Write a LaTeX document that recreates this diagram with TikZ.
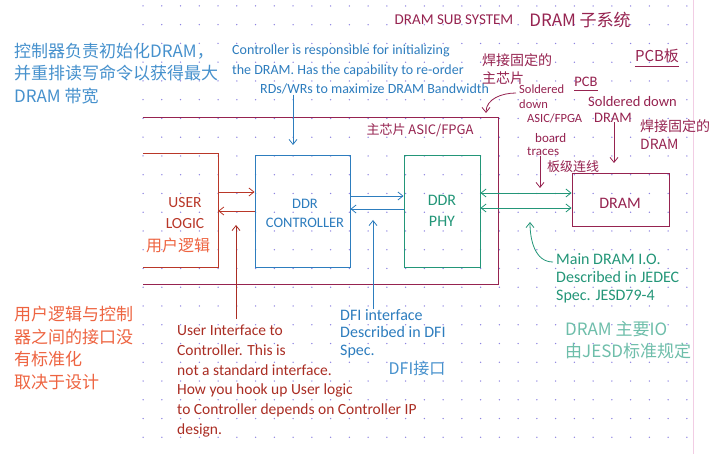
\documentclass[tikz,border=0pt]{standalone}
\usepackage{fontspec}
\setmainfont{Carlito}
\newfontfamily\cjk{Noto Sans CJK SC}
\usetikzlibrary{positioning, arrows.meta, calc}
\definecolor{dotpurple}{RGB}{140,130,225}
\definecolor{edgepink}{RGB}{242,205,228}
\definecolor{chipred}{RGB}{150,35,80}
\definecolor{userred}{RGB}{185,55,40}
\definecolor{ctrlblue}{RGB}{45,125,190}
\definecolor{phygreen}{RGB}{35,150,120}
\definecolor{notered}{RGB}{170,45,35}
\definecolor{orangecn}{RGB}{238,100,65}
\definecolor{bluecn}{RGB}{70,145,205}
\definecolor{lightteal}{RGB}{110,190,170}
\tikzset{
    hand/.style={inner sep=0pt, align=left, font=\fontsize{#1}{\dimexpr #1pt*13/10\relax}\selectfont},
    hand/.default=12,
    cjkt/.style={inner sep=0pt, align=left, font=\cjk\fontsize{#1}{\dimexpr #1pt*13/10\relax}\selectfont},
    cjkt/.default=17,
    openbox/.style={rectangle, inner sep=0pt},
    harr/.style={-{Straight Barb[length=5pt, width=8pt]}, line width=0.8pt},
    hdarr/.style={{Straight Barb[length=5pt, width=8pt]}-{Straight Barb[length=5pt, width=8pt]}, line width=0.8pt}
}
\begin{document}
\begin{tikzpicture}[x=1pt, y=-1pt]
    \useasboundingbox (0,0) rectangle (720,454);
    \fill[white] (0,0) rectangle (720,454);
    % dotted paper
    \foreach \i in {0,...,29}
        \foreach \j in {0,...,23}
            \fill[dotpurple] ({143+18.75*\i},{6+18.75*\j}) circle (0.75pt);
    \draw[edgepink, line width=1pt] (693,0) -- (693,454);

    % blocks
    \node[openbox, minimum width=355pt, minimum height=166pt] (chip) at (320.5,201) {};
    \draw[chipred, line width=0.9pt] (chip.north west) -- (chip.north east) -- (chip.south east) -- (chip.south west);
    \node[openbox, minimum width=75pt, minimum height=113pt] (userlogic) at (180.5,210.5) {};
    \draw[userred, line width=0.9pt] (userlogic.north west) -- (userlogic.north east) -- (userlogic.south east) -- (userlogic.south west);
    \node[draw=ctrlblue, line width=0.9pt, minimum width=95pt, minimum height=112pt] (ctrl) at (302.5,211) {};
    \node[draw=phygreen, line width=0.9pt, minimum width=76pt, minimum height=112pt] (phy) at (442,211) {};
    \node[draw=chipred, line width=0.9pt, minimum width=97pt, minimum height=53pt] (dram) at (620.5,199.5) {};

    \node[hand=15.5, text=userred, align=center] (usertxt) at (185,213) {USER\\LOGIC};
    \node[cjkt=16, text=orangecn] (usercn) at (178,245) {用户逻辑};
    \node[hand=14.5, text=ctrlblue, align=center] (ctrltxt) at (305,213) {DDR\\CONTROLLER};
    \node[hand=16, text=phygreen, align=center] (phytxt) at (442,211) {DDR\\PHY};
    \node[hand=16, text=chipred] (dramtxt) at (620,203) {DRAM};
    \node[cjkt=13, text=chipred] (chiptxt) at (420,130) {主芯片 ASIC/FPGA};

    % interfaces
    \draw[harr, userred] (userlogic.east |- 0,192) -- (ctrl.west |- 0,192);
    \draw[harr, userred] (ctrl.west |- 0,211) -- (userlogic.east |- 0,211);
    \draw[harr, ctrlblue] (ctrl.east |- 0,196) -- (phy.west |- 0,196);
    \draw[harr, ctrlblue] (phy.west |- 0,209) -- (ctrl.east |- 0,209);
    \draw[hdarr, phygreen] (phy.east |- 0,193) -- (dram.west |- 0,193);
    \draw[hdarr, phygreen] (phy.east |- 0,208) -- (dram.west |- 0,208);

    % title
    \node[hand=15, text=chipred] (subsys) at (454,20) {DRAM SUB SYSTEM};
    \node[cjkt=17, text=chipred] (subsyscn) at (580,20) {DRAM 子系统};
    \node[cjkt=15, text=chipred] (pcbban) at (657,56) {PCB板};
    \draw[chipred, line width=0.8pt] ($(pcbban.south west)+(0,3)$) -- ($(pcbban.south east)+(0,3)$);

    % controller notes
    \node[text=bluecn, anchor=north west, inner sep=0pt, align=left, font=\cjk\fontsize{17}{22.5}\selectfont] (ctrlcn) at (14,43) {控制器负责初始化DRAM，\\并重排读写命令以获得最大\\DRAM 带宽};
    \node[text=ctrlblue, anchor=north west, inner sep=0pt, align=left, font=\fontsize{14}{19.5}\selectfont] (ctrlen) at (232,45) {Controller is responsible for initializing\\the DRAM. Has the capability to re-order\\\hspace*{28pt}RDs/WRs to maximize DRAM Bandwidth};
    \coordinate (ctrlin) at (293,145);
    \draw[harr, ctrlblue] (ctrlen.south -| ctrlin) -- (ctrlin);

    % PCB notes
    \node[text=chipred, anchor=north west, inner sep=0pt, align=left, font=\cjk\fontsize{14}{18.5}\selectfont] (solderedcn) at (482,53) {焊接固定的\\主芯片};
    \node[text=chipred, anchor=north west, inner sep=0pt, align=left, font=\fontsize{12.5}{14.5}\selectfont] (solderasic) at (519,85) {Soldered\\down\\\hspace*{8pt}ASIC/FPGA};
    \coordinate (chipin) at (486,113);
    \draw[harr, chipred] ($(solderasic.north west)+(-3,8)$) to[out=180, in=90] (chipin);
    \node[hand=14.5, text=chipred] (pcb) at (586,82) {PCB};
    \draw[chipred, line width=0.8pt] ($(pcb.south west)+(0,3)$) -- ($(pcb.south east)+(0,3)$);
    \node[text=chipred, anchor=north west, inner sep=0pt, align=left, font=\fontsize{14.5}{16}\selectfont] (solderdram) at (588,96) {Soldered down\\\hspace*{6pt}DRAM};
    \node[text=chipred, anchor=north west, inner sep=0pt, align=left, font=\cjk\fontsize{14}{18}\selectfont] (soldercn) at (640,119) {焊接固定的\\DRAM};
    \coordinate (dramin) at (614,163);
    \draw[harr, chipred] (solderdram.south -| dramin) -- (dramin);
    \node[text=chipred, anchor=north west, inner sep=0pt, align=left, font=\fontsize{13}{13}\selectfont] (boardtr) at (527,133) {\hspace*{8pt}board\\traces};
    \node[cjkt=13, text=chipred] (boardcn) at (573,167) {板级连线};
    \coordinate (traceend) at (540,188);
    \draw[harr, chipred] (boardtr.south -| traceend) -- (traceend);

    % JEDEC notes
    \node[text=phygreen, anchor=north west, inner sep=0pt, align=left, font=\fontsize{16}{18}\selectfont] (mainio) at (556,253) {Main DRAM I.O.\\Described in JEDEC\\Spec. JESD79-4};
    \coordinate (traceup) at (530,222);
    \draw[harr, phygreen] ($(mainio.north west)+(-3,9)$) to[out=180, in=-90] (traceup);
    \node[text=lightteal, anchor=north west, inner sep=0pt, align=left, font=\cjk\fontsize{17}{22}\selectfont] (mainiocn) at (565,321) {DRAM 主要IO\\由JESD标准规定};

    % DFI notes
    \node[text=ctrlblue, anchor=north west, inner sep=0pt, align=left, font=\fontsize{16}{17.5}\selectfont] (dfinote) at (340,309) {DFI interface\\Described in DFI\\Spec.};
    \node[cjkt=16, text=bluecn] (dficn) at (417,368) {DFI接口};
    \coordinate (dfiin) at (373,220);
    \draw[harr, ctrlblue] (dfinote.north -| dfiin) -- (dfiin);

    % user interface notes
    \node[text=notered, anchor=north west, inner sep=0pt, align=left, font=\fontsize{15.5}{19.7}\selectfont] (uinote) at (177,325) {User Interface to\\Controller. This is\\not a standard interface.\\How you hook up User logic\\to Controller depends on Controller IP\\design.};
    \node[text=orangecn, anchor=north west, inner sep=0pt, align=left, font=\cjk\fontsize{17}{22.5}\selectfont] (uicn) at (14,306) {用户逻辑与控制\\器之间的接口没\\有标准化\\取决于设计};
    \coordinate (uiin) at (236,225);
    \draw[harr, notered] ($(uinote.north -| uiin)+(0,-6)$) -- (uiin);
\end{tikzpicture}
\end{document}
